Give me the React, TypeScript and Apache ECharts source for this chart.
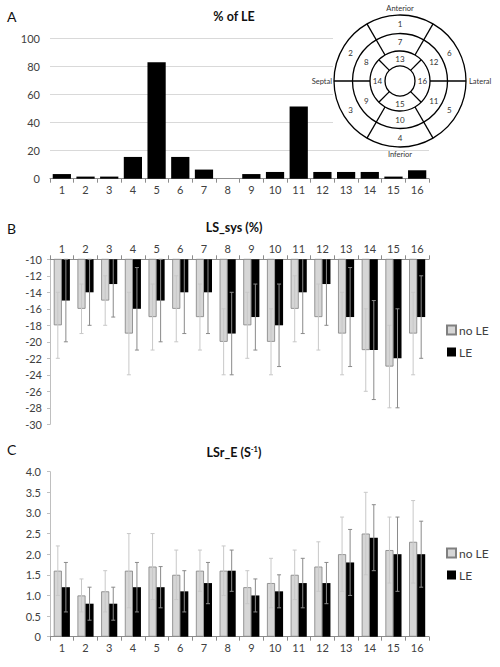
import React, { useEffect, useRef } from "react";
import * as echarts from "echarts";

const CATS = ["1", "2", "3", "4", "5", "6", "7", "8", "9", "10", "11", "12", "13", "14", "15", "16"];

const PCT_LE = [3.3, 1.5, 1.5, 15.5, 83, 15.5, 6.5, 0, 3.3, 4.8, 51.5, 4.8, 4.8, 4.8, 1.5, 6];

const LS_SYS_NOLE = [-18, -16, -15, -19, -17, -16, -17, -20, -18, -20, -16, -17, -19, -21, -23, -19];
const LS_SYS_NOLE_SD = [4, 3, 3, 5, 4, 4, 4, 4, 4, 4, 4, 4, 5, 5, 5, 5];
const LS_SYS_LE = [-15, -14, -13, -16, -15, -14, -14, -19, -17, -18, -14, -13, -17, -21, -22, -17];
const LS_SYS_LE_SD = [5, 4, 4, 5, 5, 5, 5, 5, 4, 5, 5, 5, 6, 6, 6, 5];

const LSR_E_NOLE = [1.6, 1.0, 1.1, 1.6, 1.7, 1.5, 1.6, 1.6, 1.2, 1.3, 1.5, 1.7, 2.0, 2.5, 2.1, 2.3];
const LSR_E_NOLE_SD = [0.6, 0.4, 0.5, 0.9, 0.8, 0.6, 0.5, 0.6, 0.4, 0.6, 0.6, 0.6, 0.9, 1.0, 0.8, 1.0];
const LSR_E_LE = [1.2, 0.8, 0.8, 1.2, 1.2, 1.1, 1.3, 1.6, 1.0, 1.1, 1.3, 1.3, 1.8, 2.4, 2.0, 2.0];
const LSR_E_LE_SD = [0.6, 0.4, 0.4, 0.6, 0.5, 0.5, 0.5, 0.5, 0.4, 0.4, 0.6, 0.5, 0.8, 0.8, 0.9, 0.8];

const SEGMENTS_OUTER = ["1", "2", "3", "4", "5", "6"];
const SEGMENTS_MID = ["7", "8", "9", "10", "11", "12"];
const SEGMENTS_APEX = ["13", "14", "15", "16"];

const FONT = "Lato, 'Open Sans', sans-serif";
const TXT = "#404040";
const PAIR_GAP = 0.32;
const GREY = "#d6d6d6";
const GREY_BORDER = "#808080";

function errorSeries(
  means: number[],
  sds: number[],
  gi: number,
  side: number,
  color: string,
  yMin: number,
  yMax: number
) {
  return {
    type: "custom",
    xAxisIndex: gi,
    yAxisIndex: gi,
    silent: true,
    z: 5,
    data: means.map((m, i) => [i, m, sds[i]]),
    renderItem: (params: any, api: any) => {
      const i = api.value(0);
      const m = api.value(1);
      const s = api.value(2);
      const band = api.size([1, 0])[0];
      const bw = (band * (1 - PAIR_GAP)) / 2;
      const loV = Math.max(m - s, yMin);
      const hiV = Math.min(m + s, yMax);
      const lo = api.coord([i, loV]);
      const hi = api.coord([i, hiV]);
      const x = lo[0] + (side * bw) / 2;
      const cw = 2;
      const children: any[] = [
        { type: "line", shape: { x1: x, y1: lo[1], x2: x, y2: hi[1] }, style: { stroke: color, lineWidth: 1 } },
      ];
      if (m - s >= yMin)
        children.push({ type: "line", shape: { x1: x - cw, y1: lo[1], x2: x + cw, y2: lo[1] }, style: { stroke: color, lineWidth: 1 } });
      if (m + s <= yMax)
        children.push({ type: "line", shape: { x1: x - cw, y1: hi[1], x2: x + cw, y2: hi[1] }, style: { stroke: color, lineWidth: 1 } });
      return { type: "group", children };
    },
  };
}

function bullseye() {
  const cx = 400;
  const cy = 81;
  const R = [66, 47.5, 30, 15];
  const els: any[] = [];
  const stroke = { stroke: "#000", lineWidth: 1.3, fill: "none" };
  els.push({ type: "rect", shape: { x: 333, y: 0, width: 167, height: 142 }, style: { fill: "#fff" }, z: 10 });
  R.forEach((r) => els.push({ type: "circle", shape: { cx, cy, r }, style: { ...stroke }, z: 11 }));
  const ang = (a: number) => (a * Math.PI) / 180;
  [0, 60, 120, 180, 240, 300].forEach((a) => {
    const c = Math.cos(ang(a));
    const s = Math.sin(ang(a));
    els.push({
      type: "line",
      shape: { x1: cx + R[2] * c, y1: cy - R[2] * s, x2: cx + R[0] * c, y2: cy - R[0] * s },
      style: { stroke: "#000", lineWidth: 1.3 },
      z: 11,
    });
  });
  [45, 135, 225, 315].forEach((a) => {
    const c = Math.cos(ang(a));
    const s = Math.sin(ang(a));
    els.push({
      type: "line",
      shape: { x1: cx + R[3] * c, y1: cy - R[3] * s, x2: cx + R[2] * c, y2: cy - R[2] * s },
      style: { stroke: "#000", lineWidth: 1.3 },
      z: 11,
    });
  });
  const label = (t: string, r: number, a: number) => ({
    type: "text",
    x: cx + r * Math.cos(ang(a)),
    y: cy - r * Math.sin(ang(a)),
    style: { text: t, fill: "#333", fontSize: 8, fontFamily: FONT, align: "center", verticalAlign: "middle" },
    z: 12,
  });
  const ringAngles = [90, 150, 210, 270, 330, 30];
  SEGMENTS_OUTER.forEach((t, k) => els.push(label(t, 57, ringAngles[k])));
  SEGMENTS_MID.forEach((t, k) => els.push(label(t, 39, ringAngles[k])));
  const apexAngles = [90, 180, 270, 0];
  SEGMENTS_APEX.forEach((t, k) => els.push(label(t, 22.5, apexAngles[k])));
  const side = (t: string, x: number, y: number, align: string) => ({
    type: "text",
    x,
    y,
    style: { text: t, fill: "#333", fontSize: 7.5, fontFamily: FONT, align, verticalAlign: "middle" },
    z: 12,
  });
  els.push(side("Anterior", cx, 8, "center"));
  els.push(side("Inferior", cx, 154, "center"));
  els.push(side("Septal", 332, cy, "right"));
  els.push(side("Lateral", 469, cy, "left"));
  return els;
}

function panelText(t: string, x: number, y: number, size: number, bold: boolean, align = "left") {
  return {
    type: "text",
    x,
    y,
    style: {
      text: t,
      fill: "#111",
      fontSize: size,
      fontWeight: bold ? "bold" : "normal",
      fontFamily: FONT,
      align,
      verticalAlign: "middle",
    },
    z: 20,
  };
}

export default function App() {
  const ref = useRef<HTMLDivElement>(null);
  useEffect(() => {
    if (!ref.current) return;
    const chart = echarts.init(ref.current, undefined, { renderer: "svg" });
    const axisLabel = { color: TXT, fontSize: 11, fontFamily: FONT };
    const lightLine = { show: true, lineStyle: { color: "#bfbfbf", width: 1 } };
    const xAxisBase = (gi: number, position: string) => ({
      type: "category",
      gridIndex: gi,
      data: CATS,
      position,
      axisLine: { show: true, onZero: false, lineStyle: { color: "#8c8c8c", width: 1 } },
      axisTick: { show: true, length: 4, lineStyle: { color: "#8c8c8c" } },
      axisLabel: { ...axisLabel, margin: 5 },
    });
    const option: any = {
      animation: false,
      backgroundColor: "#fff",
      grid: [
        { left: 50, top: 38.3, width: 379, height: 140.4 },
        { left: 50, top: 259.3, width: 379, height: 165 },
        { left: 50, top: 471.7, width: 379, height: 165 },
      ],
      xAxis: [xAxisBase(0, "bottom"), xAxisBase(1, "top"), xAxisBase(2, "bottom")],
      yAxis: [
        {
          type: "value",
          gridIndex: 0,
          min: 0,
          max: 100,
          interval: 20,
          axisLine: { show: false },
          axisTick: { show: false },
          splitLine: { show: true, lineStyle: { color: "#d9d9d9", width: 1 } },
          axisLabel: { ...axisLabel, margin: 10 },
        },
        {
          type: "value",
          gridIndex: 1,
          min: -30,
          max: -10,
          interval: 2,
          axisLine: lightLine,
          axisTick: { show: true, length: 3, lineStyle: { color: "#bfbfbf" } },
          splitLine: { show: false },
          axisLabel: { ...axisLabel, margin: 8 },
        },
        {
          type: "value",
          gridIndex: 2,
          min: 0,
          max: 4,
          interval: 0.5,
          axisLine: lightLine,
          axisTick: { show: true, length: 3, lineStyle: { color: "#bfbfbf" } },
          splitLine: { show: false },
          axisLabel: { ...axisLabel, margin: 9, formatter: (v: number) => (v === 0 ? "0" : v.toFixed(1)) },
        },
      ],
      legend: [
        {
          data: ["no LE", "LE"],
          orient: "vertical",
          left: 441,
          top: 319,
          itemWidth: 9,
          itemHeight: 9,
          itemGap: 10,
          icon: "rect",
          textStyle: { color: TXT, fontSize: 12, fontFamily: FONT, padding: [0, 0, 0, -2] },
        },
        {
          data: ["no LE", "LE"],
          orient: "vertical",
          left: 441,
          top: 542,
          itemWidth: 9,
          itemHeight: 9,
          itemGap: 10,
          icon: "rect",
          textStyle: { color: TXT, fontSize: 12, fontFamily: FONT, padding: [0, 0, 0, -2] },
        },
      ],
      series: [
        {
          type: "bar",
          name: "% of LE",
          xAxisIndex: 0,
          yAxisIndex: 0,
          data: PCT_LE,
          barCategoryGap: "23%",
          itemStyle: { color: "#000" },
        },
        {
          type: "bar",
          name: "no LE",
          xAxisIndex: 1,
          yAxisIndex: 1,
          data: LS_SYS_NOLE,
          barGap: "0%",
          barCategoryGap: PAIR_GAP * 100 + "%",
          itemStyle: { color: GREY, borderColor: GREY_BORDER, borderWidth: 0.8 },
        },
        {
          type: "bar",
          name: "LE",
          xAxisIndex: 1,
          yAxisIndex: 1,
          data: LS_SYS_LE,
          barGap: "0%",
          barCategoryGap: PAIR_GAP * 100 + "%",
          itemStyle: { color: "#000" },
        },
        {
          type: "bar",
          name: "no LE",
          xAxisIndex: 2,
          yAxisIndex: 2,
          data: LSR_E_NOLE,
          barGap: "0%",
          barCategoryGap: PAIR_GAP * 100 + "%",
          itemStyle: { color: GREY, borderColor: GREY_BORDER, borderWidth: 0.8 },
        },
        {
          type: "bar",
          name: "LE",
          xAxisIndex: 2,
          yAxisIndex: 2,
          data: LSR_E_LE,
          barGap: "0%",
          barCategoryGap: PAIR_GAP * 100 + "%",
          itemStyle: { color: "#000" },
        },
        errorSeries(LS_SYS_NOLE, LS_SYS_NOLE_SD, 1, -1, "#c8c8c8", -30, -10),
        errorSeries(LS_SYS_LE, LS_SYS_LE_SD, 1, 1, "#8a8a8a", -30, -10),
        errorSeries(LSR_E_NOLE, LSR_E_NOLE_SD, 2, -1, "#c8c8c8", 0, 4),
        errorSeries(LSR_E_LE, LSR_E_LE_SD, 2, 1, "#8a8a8a", 0, 4),
      ],
      graphic: [
        ...bullseye(),
        panelText("A", 7, 16, 14, false),
        panelText("B", 7, 228, 14, false),
        panelText("C", 7, 449, 14, false),
        panelText("% of LE", 234, 16, 12.5, true, "center"),
        panelText("LS_sys (%)", 234, 227, 12.5, true, "center"),
        {
          type: "text",
          x: 234,
          y: 452,
          style: {
            text: "{a|LSr_E (S}{b|-1}{a|)}",
            align: "center",
            verticalAlign: "middle",
            rich: {
              a: { fontSize: 12.5, fontWeight: "bold", fontFamily: FONT, fill: "#111" },
              b: { fontSize: 7.5, fontWeight: "bold", fontFamily: FONT, fill: "#111", padding: [0, 0, 6, 0] },
            },
          },
          z: 20,
        },
      ],
    };
    chart.setOption(option);
    return () => chart.dispose();
  }, []);
  return (
    <div
      ref={ref}
      style={{ position: "fixed", left: 0, top: 0, width: 500, height: 667, background: "#fff" }}
    />
  );
}
